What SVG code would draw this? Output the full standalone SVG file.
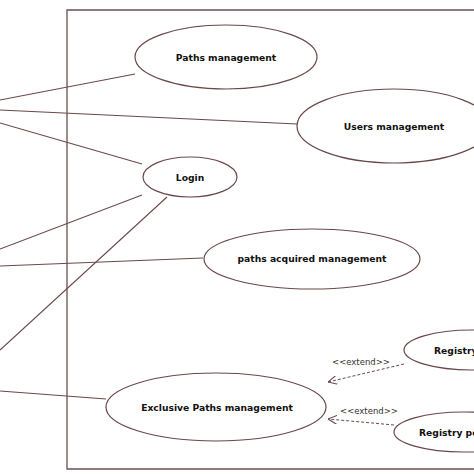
<svg xmlns="http://www.w3.org/2000/svg" width="474" height="474" viewBox="0 0 474 474">
<defs>
<style>
.uc{fill:#fff;stroke:#6b4848;stroke-width:1.2}
.lbl{font-family:"DejaVu Sans",Verdana,sans-serif;font-weight:bold;font-size:9.2px;fill:#111;text-anchor:middle}
.ext{font-family:"DejaVu Sans",Verdana,sans-serif;font-size:8.5px;fill:#333;text-anchor:middle}
.assoc{stroke:#6b4848;stroke-width:1.1;fill:none}
.dep{stroke:#6b4848;stroke-width:1;fill:none;stroke-dasharray:3,2}
</style>
<marker id="open" viewBox="0 0 10 10" refX="10" refY="5" markerWidth="9" markerHeight="9" orient="auto" markerUnits="userSpaceOnUse">
<path d="M0,0 L10,5 L0,10" fill="none" stroke="#6b4848" stroke-width="1.2"/>
</marker>
</defs>
<rect width="474" height="474" fill="#fff"/>
<path id="system" d="M480 10 H67 V469 H480" fill="none" stroke="#6b5050" stroke-width="1.3"/>
<g id="connectors">
<line class="assoc" x1="0" y1="100" x2="135" y2="74"/>
<line class="assoc" x1="0" y1="110" x2="297" y2="124"/>
<line class="assoc" x1="0" y1="123" x2="142" y2="164"/>
<line class="assoc" x1="0" y1="249" x2="142" y2="195"/>
<line class="assoc" x1="0" y1="266" x2="203" y2="258"/>
<line class="assoc" x1="0" y1="350" x2="167" y2="197"/>
<line class="assoc" x1="0" y1="391" x2="106" y2="399"/>
<line class="dep" x1="404" y1="364" x2="328" y2="382" marker-end="url(#open)"/>
<line class="dep" x1="394" y1="425" x2="328" y2="419" marker-end="url(#open)"/>
<text class="ext" x="361" y="365">&lt;&lt;extend&gt;&gt;</text>
<text class="ext" x="369" y="414">&lt;&lt;extend&gt;&gt;</text>
</g>
<g id="paths-management">
<ellipse class="uc" cx="226" cy="57" rx="91" ry="32"/>
<text class="lbl" x="226" y="61">Paths management</text>
</g>
<g id="users-management">
<ellipse class="uc" cx="394" cy="126" rx="97" ry="37"/>
<text class="lbl" x="394" y="130">Users management</text>
</g>
<g id="login">
<ellipse class="uc" cx="190" cy="177" rx="47" ry="20"/>
<text class="lbl" x="190" y="181">Login</text>
</g>
<g id="paths-acquired-management">
<ellipse class="uc" cx="312" cy="259" rx="108" ry="30"/>
<text class="lbl" x="312" y="262">paths acquired management</text>
</g>
<g id="exclusive-paths-management">
<ellipse class="uc" cx="216" cy="407" rx="110" ry="34"/>
<text class="lbl" x="217" y="411">Exclusive Paths management</text>
</g>
<g id="registry">
<ellipse class="uc" cx="472" cy="350" rx="68" ry="20"/>
<text class="lbl" x="434" y="354" style="text-anchor:start">Registry</text>
</g>
<g id="registry-po">
<ellipse class="uc" cx="464" cy="432" rx="70" ry="20"/>
<text class="lbl" x="419" y="436" style="text-anchor:start">Registry po</text>
</g>
</svg>
